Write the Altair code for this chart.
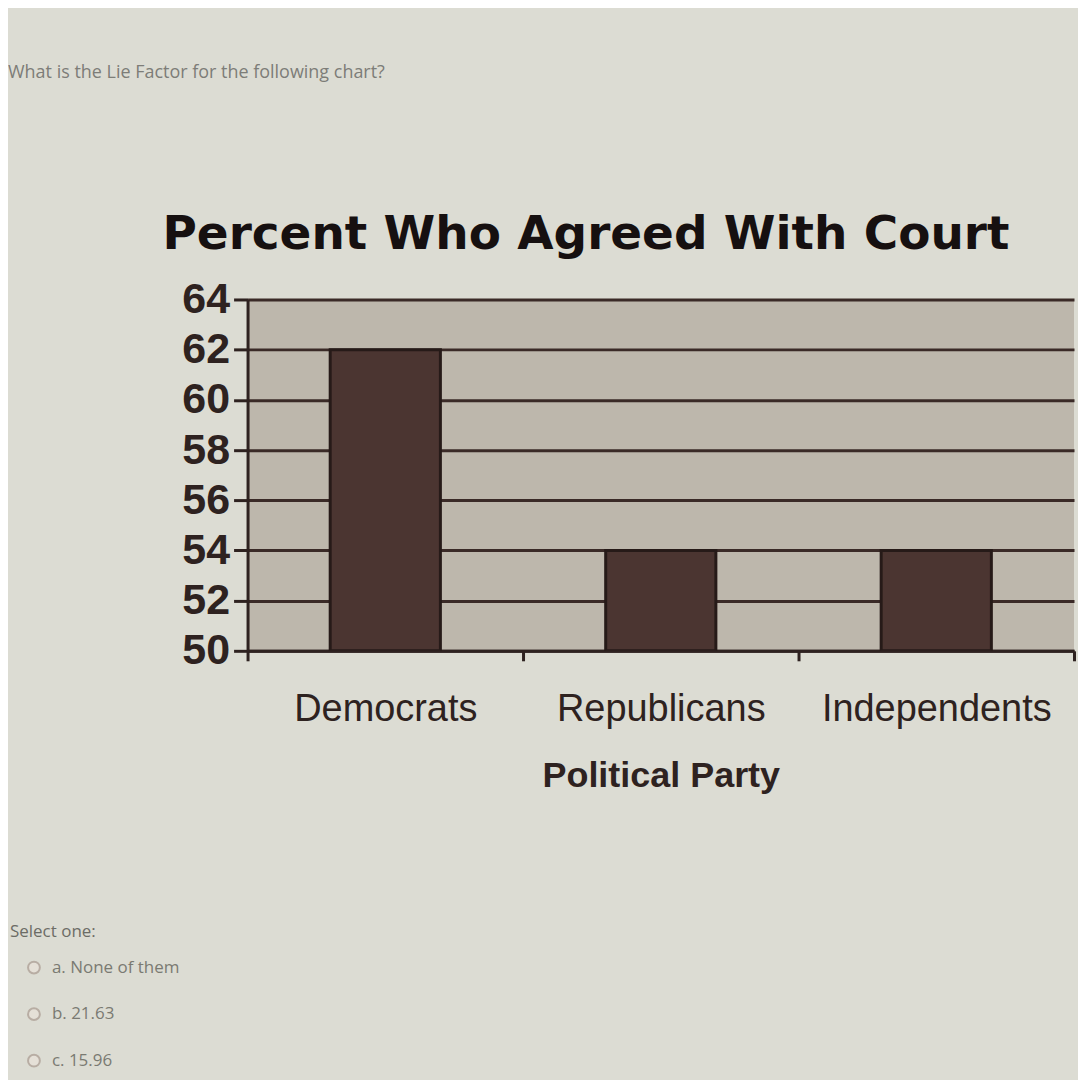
import altair as alt
import pandas as pd

question = "What is the Lie Factor for the following chart?"
chart_title = "Percent Who Agreed With Court"
parties = ["Democrats", "Republicans", "Independents"]
percents = [62, 54, 54]
y_ticks = [50, 52, 54, 56, 58, 60, 62, 64]
prompt = "Select one:"
options = ["a. None of them", "b. 21.63", "c. 15.96"]

df = pd.DataFrame({"party": parties, "pct": percents})
opt_df = pd.DataFrame({"opt": options})
prompt_df = pd.DataFrame({"t": [prompt]})

ink = "#2e2220"

bars = alt.Chart(df).mark_bar(
    color="#4b3531", stroke="#261a18", strokeWidth=3, clip=True,
    width=alt.RelativeBandSize(0.4)
).encode(
    x=alt.X("party:N", sort=parties, title="Political Party",
            scale=alt.Scale(paddingInner=0, paddingOuter=0),
            axis=alt.Axis(labelAngle=0, labelFont="Liberation Sans", labelFontSize=38,
                          labelColor=ink, labelPadding=30, labelLimit=0, tickBand="extent",
                          tickSize=10, tickColor=ink, tickWidth=3,
                          domainColor=ink, domainWidth=3,
                          titleFont="Liberation Sans", titleFontSize=36,
                          titleFontWeight="bold", titleColor=ink, titlePadding=30)),
    y=alt.Y("pct:Q", title=None,
            scale=alt.Scale(domain=[50, 64], nice=False, zero=False),
            axis=alt.Axis(values=y_ticks, labelFont="Liberation Sans", labelFontSize=43,
                          labelFontWeight="bold", labelColor=ink, labelPadding=4,
                          tickSize=14, tickColor=ink, tickWidth=3,
                          domainColor=ink, domainWidth=3,
                          grid=True, gridColor="#3a2a27", gridWidth=3,
                          minExtent=240)),
    y2=alt.datum(50),
).properties(
    width=828, height=352,
    title=alt.TitleParams(chart_title, anchor="middle", frame="group", dx=-75,
                          font="DejaVu Sans", fontSize=47, fontWeight="bold",
                          color="#161010", offset=20),
)

opt_y = alt.Y("opt:N", sort=options, axis=None,
              scale=alt.Scale(paddingOuter=0.25))
opt_circles = alt.Chart(opt_df).mark_point(
    shape="circle", size=140, filled=True, color="#e9e2da", stroke="#a99a90", strokeWidth=2
).encode(y=opt_y, x=alt.value(-214))
opt_text = alt.Chart(opt_df).mark_text(
    align="left", font="Open Sans", fontSize=17, color="#7a7a72"
).encode(y=opt_y, x=alt.value(-196), text="opt:N")
prompt_text = alt.Chart(prompt_df).mark_text(
    align="left", baseline="middle", font="Open Sans", fontSize=17, color="#6c6c66"
).encode(x=alt.value(-238), y=alt.value(-12), text="t:N")

opts = (prompt_text + opt_circles + opt_text).properties(
    width=400, height=140,
    view=alt.ViewBackground(fill="transparent", stroke=None),
)

chart = alt.vconcat(bars, opts, spacing=130).properties(
    title=alt.TitleParams(question, anchor="start", font="Open Sans", fontSize=18,
                          color="#7d7d78", fontWeight="normal", offset=129),
    background="#dcdcd3",
    padding={"left": 0, "top": 55, "right": 2, "bottom": 10},
).configure_view(
    fill="#bdb7ac", stroke=None
)

chart.save("out.html", embed_options={"renderer": "svg", "actions": False})
